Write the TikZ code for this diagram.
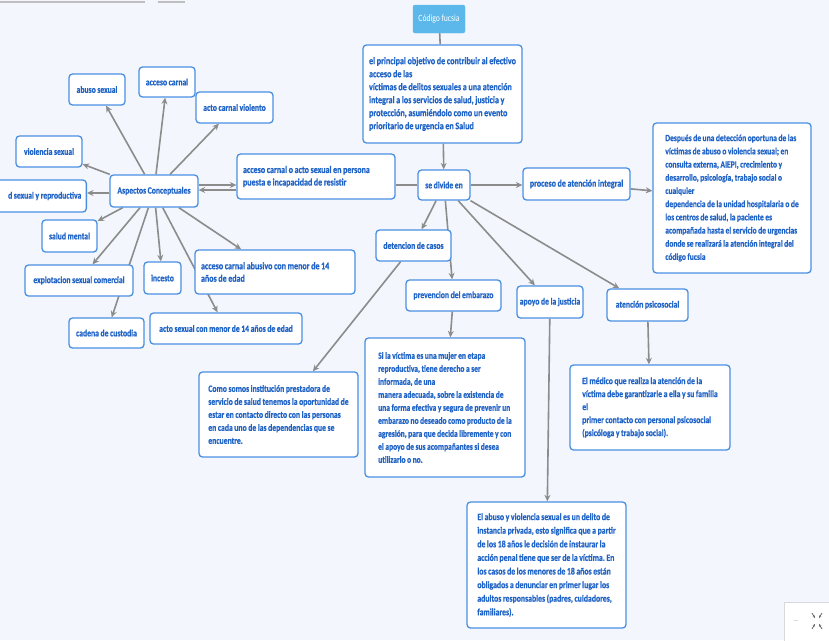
\documentclass[tikz,border=0pt]{standalone}
\usepackage{fontspec}
\newfontfamily\cf{Carlito}[FakeStretch=0.8, WordSpace=0.9, BoldFont={Carlito Bold}, BoldFeatures={FakeStretch=0.8, FakeBold=0.6, WordSpace=0.9}]
\usetikzlibrary{arrows.meta,calc}
\definecolor{bg}{HTML}{F3F6FC}
\definecolor{bordblue}{HTML}{4A90E2}
\definecolor{txtblue}{HTML}{1F63C6}
\definecolor{conn}{HTML}{8C8C8C}
\definecolor{fucsia}{HTML}{5CB8EA}
\pgfdeclarelayer{back}
\pgfsetlayers{back,main}
\begin{document}
\begin{tikzpicture}[x=1pt,y=-1pt,
 box/.style={draw=bordblue, line width=1.3pt, rounded corners=3.5pt, fill=white, text=txtblue,
   font=\cf\bfseries\frenchspacing\fontsize{9.6}{13}\selectfont, inner sep=0pt, align=center},
 tbox/.style={box, align=flush left, text width=#1},
 lbox/.style={box, align=left},
 arr/.style={draw=conn, line width=1.6pt, -{Stealth[length=6.5pt,width=6pt]}},
 ln/.style={draw=conn, line width=1.6pt},
]
\useasboundingbox (0,0) rectangle (829,640);
\clip (0,0) rectangle (829,640);

% ---- nodes ----
\node[draw=fucsia, fill=fucsia, rounded corners=2pt, text=white, font=\cf\fontsize{9.6}{13}\selectfont,
  minimum width=52, minimum height=28, inner sep=0pt] (codigo) at (439,19) {Código fucsia};

\node[lbox, font=\cf\bfseries\frenchspacing\fontsize{10.1}{13}\selectfont, minimum width=159, minimum height=98] (objetivo) at (442.5,94)
 {el principal objetivo de contribuir al efectivo\\acceso de las\\víctimas de delitos sexuales a una atención\\integral a los servicios de salud, justicia y\\protección, asumiéndolo como un evento\\prioritario de urgencia en Salud};

\node[box, minimum width=52, minimum height=30] (sedivide) at (444,185) {se divide en};

\node[tbox=146, font=\cf\bfseries\frenchspacing\fontsize{10}{12.5}\selectfont, minimum width=158, minimum height=45] (accesoP) at (316,176.5)
 {acceso carnal o acto sexual en persona\\puesta e incapacidad de resistir};

\node[box, minimum width=88, minimum height=32] (aspectos) at (154,191) {Aspectos Conceptuales};
\node[box, minimum width=56, minimum height=31] (abuso) at (97,89.5) {abuso sexual};
\node[box, minimum width=56, minimum height=30] (accesoC) at (167,82) {acceso carnal};
\node[box, minimum width=77, minimum height=31] (actoV) at (234.5,107.5) {acto carnal violento};
\node[box, minimum width=66, minimum height=31] (violencia) at (49,151.5) {violencia sexual};
\node[box, minimum width=110, minimum height=32, anchor=east, align=flush right, text width=100] (saludsex) at (87,196) {d sexual y reproductiva};
\node[box, minimum width=55, minimum height=32] (saludm) at (69.5,236) {salud mental};
\node[box, minimum width=108, minimum height=31] (explot) at (79,280.5) {explotacion sexual comercial};
\node[box, minimum width=37, minimum height=32] (incesto) at (162.5,278) {incesto};
\node[tbox=148, font=\cf\bfseries\frenchspacing\fontsize{10}{12.5}\selectfont, minimum width=160, minimum height=44] (accesoA) at (275,272)
 {acceso carnal abusivo con menor de 14\\años de edad};
\node[box, minimum width=75, minimum height=30] (cadena) at (106.5,333) {cadena de custodia};
\node[box, minimum width=152, minimum height=31] (actoM) at (226,328.5) {acto sexual con menor de 14 años de edad};

\node[box, font=\cf\bfseries\frenchspacing\fontsize{10}{13}\selectfont, minimum width=107, minimum height=32] (proceso) at (576.5,184) {proceso de atención integral};
\node[lbox, font=\cf\bfseries\frenchspacing\fontsize{9.4}{13.2}\selectfont, minimum width=158, minimum height=150] (despues) at (732,198)
 {Después de una detección oportuna de las\\víctimas de abuso o violencia sexual; en\\consulta externa, AIEPI, crecimiento y\\desarrollo, psicología, trabajo social o\\cualquier\\dependencia de la unidad hospitalaria o de\\los centros de salud, la paciente es\\acompañada hasta el servicio de urgencias\\donde se realizará la atención integral del\\código fucsia};

\node[box, minimum width=75, minimum height=31] (detencion) at (413.5,245.5) {detencion de casos};
\node[box, minimum width=95, minimum height=31] (prevencion) at (453.5,295.5) {prevencion del embarazo};
\node[box, minimum width=66, minimum height=32] (apoyo) at (550,302) {apoyo de la justicia};
\node[box, minimum width=81, minimum height=32] (atencion) at (647.5,305) {atención psicosocial};

\node[lbox, minimum width=159, minimum height=85] (como) at (278.5,414.5)
 {Como somos institución prestadora de\\servicio de salud tenemos la oportunidad de\\estar en contacto directo con las personas\\en cada uno de las dependencias que se\\encuentre.};
\node[lbox, font=\cf\bfseries\frenchspacing\fontsize{9.4}{13}\selectfont, minimum width=160, minimum height=139] (silav) at (445,407.5)
 {Si la víctima es una mujer en etapa\\reproductiva, tiene derecho a ser\\informada, de una\\manera adecuada, sobre la existencia de\\una forma efectiva y segura de prevenir un\\embarazo no deseado como producto de la\\agresión, para que decida libremente y con\\el apoyo de sus acompañantes si desea\\utilizarlo o no.};
\node[lbox, minimum width=160, minimum height=85] (medico) at (650,407.5)
 {El médico que realiza la atención de la\\víctima debe garantizarle a ella y su familia\\el\\primer contacto con personal psicosocial\\(psicóloga y trabajo social).};
\node[lbox, font=\cf\bfseries\frenchspacing\fontsize{9.7}{13.6}\selectfont, minimum width=159, minimum height=126] (elabuso) at (546.5,565)
 {El abuso y violencia sexual es un delito de\\instancia privada, esto significa que a partir\\de los 18 años le decisión de instaurar la\\acción penal tiene que ser de la víctima. En\\los casos de los menores de 18 años están\\obligados a denunciar en primer lugar los\\adultos responsables (padres, cuidadores,\\familiares).};

% widget bottom right
\node[draw=black!15, fill=white, minimum width=52, minimum height=42, anchor=north west, inner sep=0pt] (widget) at (784,602) {};
\node[text=black!60, font=\fontsize{9}{9}\selectfont, inner sep=0pt] (wminus) at (796,622) {–};
\coordinate (wicon) at (817,621);

% ---- connectors ----
\begin{pgfonlayer}{back}
\fill[bg] (0,0) rectangle (829,640);
\draw[black!25, line width=1.5pt] (0,2) -- (145,2) (158,2) -- (185,2);

\draw[ln] (codigo) -- (objetivo);
\draw[arr] (objetivo) -- (sedivide);
\draw[ln] (sedivide.west) -- (sedivide.west -| accesoP.east);
\draw[arr] ([yshift=6pt]aspectos.east) -- ([yshift=6pt]aspectos.east -| accesoP.west);
\draw[arr] ([yshift=1pt]aspectos.east -| accesoP.west) -- ([yshift=1pt]aspectos.east);

\draw[arr] (aspectos) -- (abuso);
\draw[arr] (aspectos) -- (accesoC);
\draw[arr] (aspectos) -- (actoV);
\draw[arr] (aspectos) -- (violencia);
\draw[arr] ([yshift=-2pt]aspectos.west) -- ([yshift=-2pt]aspectos.west -| saludsex.east);
\draw[arr] (aspectos) -- (saludm);
\draw[arr] (aspectos) -- (explot);
\draw[arr] (aspectos) -- (cadena);
\draw[arr] (aspectos) -- (incesto);
\draw[arr] (aspectos) -- (actoM);
\draw[arr] (aspectos) -- (accesoA);

\draw[arr] (sedivide.east) -- (sedivide.east -| proceso.west);
\draw[arr] (proceso) -- (despues);
\draw[arr] (sedivide) -- (detencion);
\draw[arr] (sedivide) -- (prevencion);
\draw[arr] (sedivide) -- (apoyo);
\draw[arr] (sedivide) -- (atencion);

\draw[arr] (detencion) -- (como);
\draw[arr] (prevencion) -- (silav);
\draw[arr] (apoyo) -- (elabuso);
\draw[arr] (atencion) -- (medico);
\end{pgfonlayer}

% widget icon
\draw[black!60, line width=0.8pt, -{Stealth[length=2.5pt,width=2.5pt]}] ($(wicon)+(-5,-8)$) -- ($(wicon)+(-2,-3)$);
\draw[black!60, line width=0.8pt, -{Stealth[length=2.5pt,width=2.5pt]}] ($(wicon)+(5,-8)$) -- ($(wicon)+(2,-3)$);
\draw[black!60, line width=0.8pt, -{Stealth[length=2.5pt,width=2.5pt]}] ($(wicon)+(-5,8)$) -- ($(wicon)+(-2,3)$);
\draw[black!60, line width=0.8pt, -{Stealth[length=2.5pt,width=2.5pt]}] ($(wicon)+(5,8)$) -- ($(wicon)+(2,3)$);
\end{tikzpicture}
\end{document}
